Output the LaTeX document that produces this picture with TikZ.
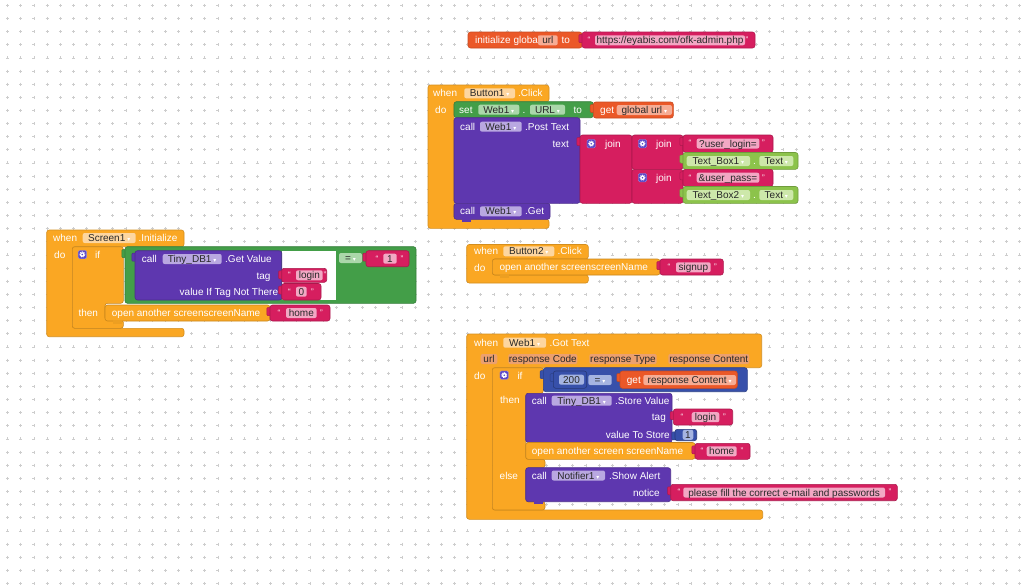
\documentclass[tikz,border=0pt]{standalone}
\usepackage{fontspec}
\setmainfont{Liberation Sans}
\newfontfamily\symf{DejaVu Sans}
\definecolor{evt}{RGB}{250,167,35}
\definecolor{evtf}{RGB}{253,214,160}
\definecolor{var}{RGB}{235,88,40}
\definecolor{varf}{RGB}{246,172,148}
\definecolor{txt}{RGB}{214,30,95}
\definecolor{txtf}{RGB}{242,168,196}
\definecolor{cmp}{RGB}{94,55,175}
\definecolor{cmpf}{RGB}{185,168,225}
\definecolor{grn}{RGB}{67,158,72}
\definecolor{grnf}{RGB}{170,215,170}
\definecolor{lgr}{RGB}{140,195,75}
\definecolor{lgrf}{RGB}{205,232,170}
\definecolor{mth}{RGB}{55,80,170}
\definecolor{mthf}{RGB}{165,180,225}
\definecolor{gearc}{RGB}{90,70,200}
\definecolor{parf}{RGB}{236,160,110}
\definecolor{dk}{RGB}{40,40,40}
\definecolor{dotc}{RGB}{205,205,205}
\tikzset{
  lb/.style={anchor=west, inner sep=0pt, text=white, font=\fontsize{10}{12}\selectfont, text height=7pt, text depth=0pt},
  lbr/.style={lb, anchor=east},
  qt/.style={lb, font=\fontsize{8}{9}\selectfont},
  fd/.style={rounded corners=2pt, inner sep=0pt, minimum height=10pt, text=dk, font=\fontsize{10}{12}\selectfont, text height=7pt, text depth=0pt},
  bk/.style={rounded corners=2.5pt, line width=0.6pt},
  gearbox/.style={fill=gearc, draw=gearc!60!white, rounded corners=1.5pt, minimum size=8.5pt, inner sep=0pt, line width=0.4pt},
}
\newcommand\fld[6]{\node[fd, fill=#5, minimum width={(#3)-(#2)}] (#1) at ({((#2)+(#3))/2},#4) {#6};}
\newcommand\dd{{\symf\fontsize{6}{6}\selectfont\ \textcolor{white}{▾}}}
\newcommand\vtab[3]{\path[fill=#3, draw=#3!80!black, line width=0.5pt, rounded corners=1pt] (#1+0.8,#2+2.5) -- (#1-3.2,#2+2.5) -- (#1-3.2,#2+10.5) -- (#1+0.8,#2+10.5);\fill[#3] (#1-1,#2+2.9) rectangle (#1+1.5,#2+10.1);}
\newcommand\sbump[3]{\fill[#3] (#1+8,#2-1) rectangle (#1+17,#2+2.5);}
\newcommand\gearic[3]{\node[gearbox] (#1) at (#2,#3) {};
  \draw[white, line width=1pt, dash pattern=on 0.9pt off 0.8pt] (#2,#3) circle (2.5pt);
  \fill[white] (#2,#3) circle (2.2pt); \fill[gearc] (#2,#3) circle (0.9pt);}
\begin{document}
\begin{tikzpicture}[x=1pt,y=-1pt]
\useasboundingbox (0,0) rectangle (1024,584);
\fill[white] (0,0) rectangle (1024,584);
\draw[dotc, line width=0.7pt] \foreach \i in {0,...,77}{\foreach \j in {0,...,44}{ ({7.7+13.14*\i},{5.3+13.14*\j}) +(-1.5,0) -- +(1.5,0) +(0,-1.5) -- +(0,1.5)}};

% ---------- initialize global url ----------
\path[bk, fill=var, draw=var!85!black] (468,32) rectangle (582,48);
\vtab{582}{32}{txt}
\path[bk, fill=txt, draw=txt!85!black] (582,32) rectangle (755,48);
\node[lb] (ig) at (475,40.3) {initialize global};
\fld{igurl}{538}{557.7}{40.3}{varf}{url}
\node[lb] (igto) at (561.5,40.3) {to};
\node[qt] (igq1) at (587.5,39) {``};
\fld{igstr}{595}{745}{40.3}{txtf}{https://eyabis.com/ofk-admin.php}
\node[qt] (igq2) at (745.5,39) {''};

% ---------- when Button1.Click ----------
\path[bk, fill=evt, draw=evt!85!black] (428,85) -- (549,85) -- (549,101.7) -- (454,101.7) -- (454,219.3) -- (549,219.3) -- (549,228.3) -- (428,228.3) -- cycle;
\path[bk, fill=grn, draw=grn!80!black] (454,101.7) rectangle (593.3,117.7);
\vtab{593.3}{102}{var}
\path[bk, fill=var, draw=var!85!black] (593.3,102) rectangle (673.3,118);
\path[bk, fill=cmp, draw=cmp!80!black] (454,117.7) rectangle (580,203.3);
\path[bk, fill=cmp, draw=cmp!80!black] (454,203.3) rectangle (550,219.3);
\sbump{454}{219.3}{cmp}
\vtab{580}{135}{txt}
\path[bk, fill=txt, draw=txt!80!black] (580,135) rectangle (632,203.3);
\path[bk, fill=txt, draw=txt!80!black] (632,135) rectangle (683,169.3);
\path[bk, fill=txt, draw=txt!80!black] (632,169.3) rectangle (683,203.3);
\vtab{683}{135}{txt}
\path[bk, fill=txt, draw=txt!80!black] (683,135) rectangle (773,152.3);
\vtab{683}{152.5}{lgr}
\path[bk, fill=lgr, draw=lgr!80!black] (683,152.5) rectangle (798,169.3);
\vtab{683}{169.3}{txt}
\path[bk, fill=txt, draw=txt!80!black] (683,169.3) rectangle (773,186.3);
\vtab{683}{186.5}{lgr}
\path[bk, fill=lgr, draw=lgr!80!black] (683,186.5) rectangle (798,203.3);

\node[lb] (b1when) at (433,93.3) {when};
\fld{b1btn}{464.3}{515}{93.3}{evtf}{Button1\dd}
\node[lb] (b1click) at (518,93.3) {.Click};
\node[lb] (b1do) at (435,109.5) {do};
\node[lb] (b1set) at (459,109.7) {set};
\fld{b1web}{478.3}{519.3}{109.7}{grnf}{Web1\dd}
\node[lb] (b1dot) at (522.5,109.7) {.};
\fld{b1url}{530}{565}{109.7}{grnf}{URL\dd}
\node[lb] (b1to) at (573.3,109.7) {to};
\node[lb] (b1get) at (600,110) {get};
\fld{b1gurl}{616.7}{672}{110}{varf}{global url\dd}
\node[lb] (b1call) at (460,126.7) {call};
\fld{b1web2}{480}{521.7}{126.7}{cmpf}{Web1\dd}
\node[lb] (b1post) at (525,126.7) {.Post Text};
\node[lbr] (b1text) at (569,143.5) {text};
\gearic{g1}{591.2}{143.7}
\node[lb] (j1) at (605,143.7) {join};
\gearic{g2}{642.5}{143.7}
\node[lb] (j2) at (656,143.7) {join};
\gearic{g3}{642.5}{177.7}
\node[lb] (j3) at (656,177.7) {join};
\node[qt] (s1q1) at (688.5,142.3) {``};
\fld{s1}{696.7}{759.3}{143.5}{txtf}{?user\_login=}
\node[qt] (s1q2) at (762,142.3) {''};
\fld{tb1}{686.7}{750}{161}{lgrf}{Text\_Box1\dd}
\node[lb] (tb1d) at (753,161) {.};
\fld{tb1t}{759.3}{793.3}{161}{lgrf}{Text\dd}
\node[qt] (s2q1) at (688.5,176.5) {``};
\fld{s2}{696.7}{759.3}{177.7}{txtf}{\&user\_pass=}
\node[qt] (s2q2) at (762,176.5) {''};
\fld{tb2}{686.7}{750}{195}{lgrf}{Text\_Box2\dd}
\node[lb] (tb2d) at (753,195) {.};
\fld{tb2t}{759.3}{793.3}{195}{lgrf}{Text\dd}
\node[lb] (b1call2) at (460,211.3) {call};
\fld{b1web3}{480}{521.7}{211.3}{cmpf}{Web1\dd}
\node[lb] (b1getm) at (525,211.3) {.Get};

% ---------- when Screen1.Initialize ----------
\path[bk, fill=evt, draw=evt!85!black] (46.7,230) -- (184,230) -- (184,246.7) -- (72.3,246.7) -- (72.3,328.3) -- (184,328.3) -- (184,336.7) -- (46.7,336.7) -- cycle;
\path[bk, fill=evt, draw=evt!80!black] (72.3,246.7) -- (123.3,246.7) -- (123.3,303.3) -- (105,303.3) -- (105,320) -- (123.3,320) -- (123.3,328.3) -- (72.3,328.3) -- cycle;
\vtab{125}{247}{grn}
\path[bk, fill=grn, draw=grn!80!black] (125,246.7) rectangle (416,303.3);
\fill[white] (281.7,250.7) rectangle (336,300);
\vtab{135}{250.7}{cmp}
\path[bk, fill=cmp, draw=cmp!80!black] (135,250.7) rectangle (281.7,300);
\vtab{281.7}{268.3}{txt}
\path[bk, fill=txt, draw=txt!80!black] (281.7,268.3) rectangle (326.7,282.3);
\vtab{281.7}{283.5}{txt}
\path[bk, fill=txt, draw=txt!80!black] (281.7,283.5) rectangle (321,300);
\vtab{366}{250.7}{txt}
\path[bk, fill=txt, draw=txt!80!black] (366,250.7) rectangle (409,266.7);
\path[bk, fill=evt, draw=evt!80!black] (105,305) rectangle (270,321);
\sbump{105}{321}{evt!95!black}
\vtab{270}{305}{txt}
\path[bk, fill=txt, draw=txt!80!black] (270,305) rectangle (330,321);

\node[lb] (s1when) at (53,238) {when};
\fld{s1scr}{82.7}{135.7}{238}{evtf}{Screen1\dd}
\node[lb] (s1init) at (138.3,238) {.Initialize};
\node[lb] (s1do) at (54,254.5) {do};
\gearic{g4}{82.3}{254.5}
\node[lb] (s1if) at (95,254.5) {if};
\node[lb] (s1then) at (78.3,312.5) {then};
\node[lb] (s1call) at (141.7,259) {call};
\fld{s1db}{162.7}{221.7}{259}{cmpf}{Tiny\_DB1\dd}
\node[lb] (s1gv) at (225,259) {.Get Value};
\node[lbr] (s1tag) at (270.7,275.5) {tag};
\node[lbr] (s1vit) at (278.3,291.7) {value If Tag Not There};
\fld{s1eq}{339}{362}{258}{grnf}{=\dd}
\node[qt] (s1oq1) at (375.5,257.5) {``};
\fld{s1one}{383.3}{396.7}{258.7}{txtf}{1}
\node[qt] (s1oq2) at (400.5,257.5) {''};
\node[qt] (s1lq1) at (288,274) {``};
\fld{s1login}{296}{322.7}{275.3}{txtf}{login}
\node[qt] (s1lq2) at (323.5,274) {''};
\node[qt] (s1zq1) at (288,290.5) {``};
\fld{s1zero}{296}{306.7}{291.7}{txtf}{0}
\node[qt] (s1zq2) at (311,290.5) {''};
\node[lb] (s1open) at (111.7,313) {open another screenscreenName};
\node[qt] (s1hq1) at (277.5,311.8) {``};
\fld{s1home}{286}{316.7}{313}{txtf}{home}
\node[qt] (s1hq2) at (320,311.8) {''};

% ---------- when Button2.Click ----------
\path[bk, fill=evt, draw=evt!85!black] (466.7,244.5) -- (588.3,244.5) -- (588.3,259) -- (492.3,259) -- (492.3,275) -- (588.3,275) -- (588.3,283) -- (466.7,283) -- cycle;
\path[bk, fill=evt, draw=evt!80!black] (492.3,259) rectangle (660,275);
\sbump{492.3}{275}{evt!95!black}
\vtab{660}{259}{txt}
\path[bk, fill=txt, draw=txt!80!black] (660,259) rectangle (723.3,275);
\node[lb] (b2when) at (474,251.3) {when};
\fld{b2btn}{503.3}{554.3}{251.3}{evtf}{Button2\dd}
\node[lb] (b2click) at (557.3,251.3) {.Click};
\node[lb] (b2do) at (474,268) {do};
\node[lb] (b2open) at (499.3,267.3) {open another screenscreenName};
\node[qt] (b2q1) at (667.5,266) {``};
\fld{b2su}{676}{710.7}{267.3}{txtf}{signup}
\node[qt] (b2q2) at (714,266) {''};

% ---------- when Web1.GotText ----------
\path[bk, fill=evt, draw=evt!85!black] (466.7,334) -- (761.7,334) -- (761.7,367.7) -- (492.3,367.7) -- (492.3,510) -- (762.7,510) -- (762.7,519.3) -- (466.7,519.3) -- cycle;
\path[bk, fill=evt, draw=evt!80!black] (492.3,367.7) -- (543.3,367.7) -- (543.3,393.3) -- (525.7,393.3) -- (525.7,459.3) -- (545,459.3) -- (545,467.7) -- (525.7,467.7) -- (525.7,501.7) -- (545,501.7) -- (545,510) -- (492.3,510) -- cycle;
\vtab{543.3}{368}{mth}
\path[bk, fill=mth, draw=mth!80!black] (543.3,367.7) rectangle (747.3,391.7);
\vtab{553.3}{371}{mth}
\path[bk, fill=mth, draw=mth!70!black] (553.3,371) rectangle (586.7,388.3);
\vtab{620}{371}{var}
\path[bk, fill=var, draw=var!85!black] (620,371) rectangle (737.3,388.3);
\path[bk, fill=cmp, draw=cmp!80!black] (525.7,393.3) rectangle (672,442.5);
\vtab{673.3}{409}{txt}
\path[bk, fill=txt, draw=txt!80!black] (673.3,409) rectangle (732.7,425);
\vtab{675}{429.3}{mth}
\path[bk, fill=mth, draw=mth!70!black] (675,429.3) rectangle (696.7,440.7);
\path[bk, fill=evt, draw=evt!80!black] (525.7,442.5) rectangle (695,459.3);
\vtab{695}{443.3}{txt}
\path[bk, fill=txt, draw=txt!80!black] (695,443.3) rectangle (750,459.3);
\path[bk, fill=cmp, draw=cmp!80!black] (525.7,467.7) rectangle (670.7,501.7);
\sbump{525.7}{501.7}{cmp}
\vtab{670.7}{484.3}{txt}
\path[bk, fill=txt, draw=txt!80!black] (670.7,484.3) rectangle (897.3,500.7);

\node[lb] (w1when) at (474,342.7) {when};
\fld{w1web}{503.3}{546}{342.7}{evtf}{Web1\dd}
\node[lb] (w1got) at (549.3,342.7) {.Got Text};
\fld{w1p1}{480.7}{497.3}{359}{parf}{url}
\fld{w1p2}{508.3}{577.3}{359}{parf}{response Code}
\fld{w1p3}{589.3}{656.7}{359}{parf}{response Type}
\fld{w1p4}{668.3}{749.3}{359}{parf}{response Content}
\node[lb] (w1do) at (474,375.5) {do};
\gearic{g5}{504.2}{375.2}
\node[lb] (w1if) at (517.3,375.7) {if};
\node[lb] (w1then) at (500,400) {then};
\node[lb] (w1else) at (499.5,475.5) {else};
\fld{w1n200}{559}{584}{379.7}{mthf}{200}
\fld{w1eq}{588.3}{611.7}{380}{mthf}{=\dd}
\node[lb] (w1get) at (626.7,380) {get};
\fld{w1rc}{643.3}{736}{380}{varf}{response Content\dd}
\node[lb] (w1call) at (531.7,400.7) {call};
\fld{w1db}{551.7}{611.7}{400.7}{cmpf}{Tiny\_DB1\dd}
\node[lb] (w1sv) at (615,400.7) {.Store Value};
\node[lbr] (w1tag) at (666,417.3) {tag};
\node[lbr] (w1vts) at (670,434.5) {value To Store};
\node[qt] (w1lq1) at (680.5,416) {``};
\fld{w1login}{691.7}{719.3}{417.2}{txtf}{login}
\node[qt] (w1lq2) at (723,416) {''};
\fld{w1one}{682.7}{693.3}{434.8}{mthf}{1}
\node[lb] (w1open) at (531.7,451.3) {open another screen screenName};
\node[qt] (w1hq1) at (700.5,450) {``};
\fld{w1home}{706.7}{736.7}{451.3}{txtf}{home}
\node[qt] (w1hq2) at (740.5,450) {''};
\node[lb] (w1call2) at (531.7,475.5) {call};
\fld{w1not}{551.7}{605}{475.5}{cmpf}{Notifier1\dd}
\node[lb] (w1sa) at (609,475.5) {.Show Alert};
\node[lbr] (w1notice) at (660,492.5) {notice};
\node[qt] (w1mq1) at (677.5,491.3) {``};
\fld{w1msg}{683.3}{885}{492.5}{txtf}{please fill the correct e-mail and passwords}
\node[qt] (w1mq2) at (888.5,491.3) {''};
\end{tikzpicture}
\end{document}
